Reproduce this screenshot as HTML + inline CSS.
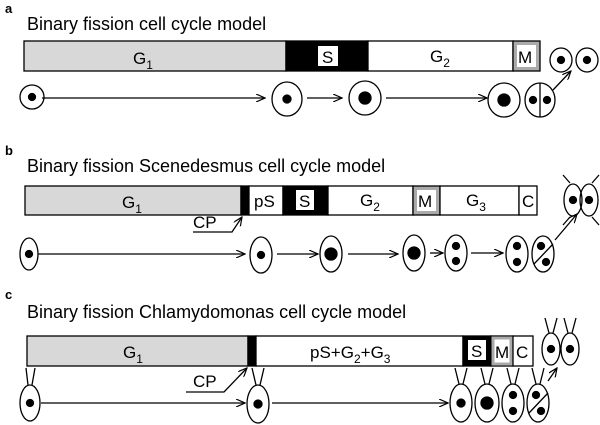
<!DOCTYPE html>
<html><head><meta charset="utf-8"><style>body{margin:0;background:#fff}svg{display:block}</style></head>
<body>
<svg width="600" height="425" viewBox="0 0 600 425" xmlns="http://www.w3.org/2000/svg" font-family="Liberation Sans, sans-serif">
<defs>
<marker id="ah" markerWidth="10" markerHeight="8" refX="9" refY="4" orient="auto" markerUnits="userSpaceOnUse"><path d="M0,0 L9,4 L0,8" fill="none" stroke="#000" stroke-width="1.2"/></marker>
</defs>
<g stroke="#000" stroke-width="1.3" fill="none">
<!-- Panel a -->
<text x="5" y="13" font-size="13" font-weight="bold" fill="#000" stroke="none">a</text>
<text x="27" y="30" font-size="18" fill="#000" stroke="none">Binary fission cell cycle model</text>
<rect x="24" y="41" width="262" height="30" fill="#d8d8d8"/>
<rect x="286" y="41" width="82" height="30" fill="#000"/>
<rect x="368" y="41" width="145" height="30" fill="#fff"/>
<rect x="513" y="41" width="27" height="30" fill="#aaa"/>
<rect x="517" y="45" width="19" height="22" fill="#fff" stroke="none"/>
<rect x="318" y="46" width="20" height="20" fill="#fff" stroke="none"/>
<g fill="#000" stroke="none" font-size="17">
<text x="133" y="64">G<tspan font-size="12" dy="5">1</tspan></text>
<text x="322" y="63">S</text>
<text x="430" y="62">G<tspan font-size="12" dy="5">2</tspan></text>
<text x="518" y="63">M</text>
</g>
<ellipse cx="32" cy="97" rx="12" ry="12"/><circle cx="32" cy="97" r="3.5" fill="#000"/>
<line x1="42" y1="98" x2="265" y2="98" marker-end="url(#ah)"/>
<ellipse cx="287" cy="99" rx="15" ry="17"/><circle cx="287" cy="99" r="4" fill="#000"/>
<line x1="307" y1="98" x2="342" y2="98" marker-end="url(#ah)"/>
<ellipse cx="365" cy="98" rx="16" ry="17"/><circle cx="365" cy="98" r="6" fill="#000"/>
<line x1="386" y1="98" x2="487" y2="98" marker-end="url(#ah)"/>
<ellipse cx="504" cy="100" rx="16" ry="17"/><circle cx="504" cy="100" r="6" fill="#000"/>
<ellipse cx="540" cy="100" rx="15" ry="17"/><line x1="540" y1="83" x2="540" y2="117"/>
<circle cx="533" cy="100" r="3.5" fill="#000"/><circle cx="547" cy="100" r="3.5" fill="#000"/>
<line x1="553" y1="90" x2="571" y2="71" marker-end="url(#ah)"/>
<ellipse cx="561" cy="60" rx="11" ry="12"/><circle cx="561" cy="60" r="3.5" fill="#000"/>
<ellipse cx="587" cy="60" rx="11" ry="12"/><circle cx="587" cy="60" r="3.5" fill="#000"/>

<!-- Panel b -->
<text x="5" y="155" font-size="13" font-weight="bold" fill="#000" stroke="none">b</text>
<text x="27" y="172" font-size="18" fill="#000" stroke="none">Binary fission Scenedesmus cell cycle model</text>
<rect x="25" y="186" width="216" height="29" fill="#d8d8d8"/>
<rect x="241" y="186" width="8" height="29" fill="#000"/>
<rect x="249" y="186" width="34" height="29" fill="#fff"/>
<rect x="283" y="186" width="45" height="29" fill="#000"/>
<rect x="328" y="186" width="85" height="29" fill="#fff"/>
<rect x="413" y="186" width="27" height="29" fill="#aaa"/>
<rect x="417" y="190" width="19" height="21" fill="#fff" stroke="none"/>
<rect x="440" y="186" width="79" height="29" fill="#fff"/>
<rect x="519" y="186" width="18" height="29" fill="#fff"/>
<rect x="296" y="190" width="18" height="20" fill="#fff" stroke="none"/>
<g fill="#000" stroke="none" font-size="17">
<text x="122" y="208">G<tspan font-size="12" dy="5">1</tspan></text>
<text x="254" y="207">pS</text>
<text x="299" y="207">S</text>
<text x="360" y="206">G<tspan font-size="12" dy="5">2</tspan></text>
<text x="418" y="207">M</text>
<text x="466" y="206">G<tspan font-size="12" dy="5">3</tspan></text>
<text x="522" y="207">C</text>
<text x="193" y="228">CP</text>
</g>
<polyline points="193,232 232,232 242,217" marker-end="url(#ah)"/>
<ellipse cx="29" cy="254" rx="9" ry="16"/><circle cx="29" cy="254" r="3.5" fill="#000"/>
<line x1="38" y1="254" x2="245" y2="254" marker-end="url(#ah)"/>
<ellipse cx="261" cy="255" rx="11" ry="18"/><circle cx="261" cy="255" r="3.5" fill="#000"/>
<line x1="277" y1="254" x2="318" y2="254" marker-end="url(#ah)"/>
<ellipse cx="331" cy="254" rx="11" ry="18"/><circle cx="331" cy="254" r="6" fill="#000"/>
<line x1="348" y1="254" x2="398" y2="254" marker-end="url(#ah)"/>
<ellipse cx="414" cy="253" rx="11" ry="18"/><circle cx="414" cy="253" r="6" fill="#000"/>
<line x1="430" y1="253" x2="443" y2="253" marker-end="url(#ah)"/>
<ellipse cx="456" cy="253" rx="11" ry="18"/><circle cx="456" cy="246" r="3.5" fill="#000"/><circle cx="456" cy="261" r="3.5" fill="#000"/>
<line x1="471" y1="253" x2="503" y2="253" marker-end="url(#ah)"/>
<ellipse cx="517" cy="254" rx="11" ry="18"/><circle cx="517" cy="246" r="3.5" fill="#000"/><circle cx="517" cy="262" r="3.5" fill="#000"/>
<ellipse cx="543" cy="254" rx="11" ry="18"/><line x1="534" y1="264" x2="553" y2="244"/><circle cx="541" cy="246" r="3.5" fill="#000"/><circle cx="546" cy="262" r="3.5" fill="#000"/>
<line x1="555" y1="240" x2="577" y2="214" marker-end="url(#ah)"/>
<ellipse cx="573" cy="200" rx="9" ry="16"/><circle cx="573" cy="200" r="3.5" fill="#000"/>
<ellipse cx="589" cy="200" rx="9" ry="16"/><circle cx="589" cy="200" r="3.5" fill="#000"/>
<line x1="570" y1="183" x2="563" y2="175"/><line x1="592" y1="183" x2="599" y2="175"/>
<line x1="570" y1="217" x2="563" y2="225"/><line x1="592" y1="217" x2="599" y2="225"/>

<!-- Panel c -->
<text x="5" y="299" font-size="13" font-weight="bold" fill="#000" stroke="none">c</text>
<text x="27" y="318" font-size="18" fill="#000" stroke="none">Binary fission Chlamydomonas cell cycle model</text>
<rect x="27" y="336" width="221" height="30" fill="#d8d8d8"/>
<rect x="248" y="336" width="8" height="30" fill="#000"/>
<rect x="256" y="336" width="207" height="30" fill="#fff"/>
<rect x="463" y="336" width="28" height="30" fill="#000"/>
<rect x="491" y="336" width="22" height="30" fill="#fff"/>
<rect x="493" y="338" width="18" height="26" fill="#fff" stroke="#aaa" stroke-width="3"/>
<rect x="513" y="336" width="20" height="30" fill="#fff"/>
<rect x="468" y="340" width="18" height="20" fill="#fff" stroke="none"/>
<g fill="#000" stroke="none" font-size="17">
<text x="123" y="358">G<tspan font-size="12" dy="5">1</tspan></text>
<text x="310" y="358">pS+G<tspan font-size="12" dy="5">2</tspan><tspan dy="-5">+G</tspan><tspan font-size="12" dy="5">3</tspan></text>
<text x="471" y="357">S</text>
<text x="495" y="358">M</text>
<text x="516" y="358">C</text>
<text x="193" y="387">CP</text>
</g>
<polyline points="186,392 224,392 247,368" marker-end="url(#ah)"/>
<g>
<ellipse cx="30" cy="403" rx="10" ry="18"/><circle cx="30" cy="403" r="3.5" fill="#000"/>
<line x1="28" y1="385" x2="26" y2="368"/><line x1="32" y1="385" x2="35" y2="368"/>
<line x1="41" y1="403" x2="245" y2="403" marker-end="url(#ah)"/>
<ellipse cx="258" cy="404" rx="11" ry="19"/><circle cx="258" cy="404" r="4" fill="#000"/>
<line x1="256" y1="385" x2="252" y2="368"/><line x1="260" y1="385" x2="264" y2="368"/>
<line x1="272" y1="403" x2="448" y2="403" marker-end="url(#ah)"/>
<ellipse cx="461" cy="403" rx="11" ry="19"/><circle cx="461" cy="403" r="4" fill="#000"/>
<line x1="459" y1="384" x2="455" y2="368"/><line x1="463" y1="384" x2="467" y2="368"/>
<ellipse cx="487" cy="403" rx="12" ry="19"/><circle cx="487" cy="403" r="6" fill="#000"/>
<line x1="485" y1="384" x2="481" y2="368"/><line x1="489" y1="384" x2="493" y2="368"/>
<ellipse cx="513" cy="403" rx="11" ry="19"/><circle cx="513" cy="395" r="3.5" fill="#000"/><circle cx="513" cy="411" r="3.5" fill="#000"/>
<line x1="511" y1="384" x2="507" y2="368"/><line x1="515" y1="384" x2="519" y2="368"/>
<ellipse cx="538" cy="403" rx="11" ry="19"/><line x1="529" y1="413" x2="548" y2="393"/><circle cx="536" cy="395" r="3.5" fill="#000"/><circle cx="541" cy="411" r="3.5" fill="#000"/>
<line x1="536" y1="384" x2="532" y2="368"/><line x1="540" y1="384" x2="544" y2="368"/>
<line x1="548" y1="381" x2="557" y2="368" marker-end="url(#ah)"/>
<ellipse cx="551" cy="349" rx="9" ry="16"/><circle cx="551" cy="349" r="3.5" fill="#000"/>
<line x1="549" y1="333" x2="545" y2="318"/><line x1="553" y1="333" x2="557" y2="318"/>
<ellipse cx="570" cy="349" rx="9" ry="16"/><circle cx="570" cy="349" r="3.5" fill="#000"/>
<line x1="568" y1="333" x2="564" y2="318"/><line x1="572" y1="333" x2="576" y2="318"/>
</g>
</g>
</svg>
</body></html>
